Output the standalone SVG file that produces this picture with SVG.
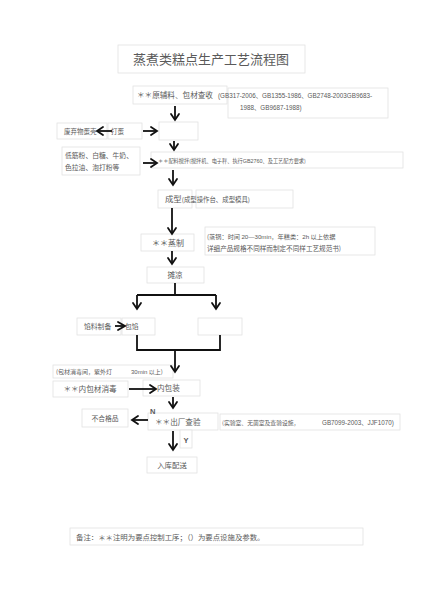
<svg xmlns="http://www.w3.org/2000/svg" width="423" height="600" viewBox="0 0 423 600">
<style>
.bx{fill:#fff;stroke:#e2e2e2;stroke-width:0.8}
.t{font-family:"Noto Sans CJK SC","Liberation Sans",sans-serif;fill:#5a5a5a}
.l{font-family:"Liberation Sans","Noto Sans CJK SC",sans-serif;fill:#5a5a5a}
.c{stroke:#111;stroke-width:1.8;fill:none}
.h{stroke:#111;stroke-width:1.8;fill:none;stroke-linecap:round;stroke-linejoin:miter}
</style>
<rect width="423" height="600" fill="#fff"/>
<g id="title"><rect class="bx" x="118" y="45" width="187" height="28"/><text class="t" x="211" y="64" font-size="13" text-anchor="middle">蒸煮类糕点生产工艺流程图</text></g>
<g id="n_receive"><rect class="bx" x="133" y="86" width="94" height="18"/><text class="t" x="137" y="98" font-size="7.6">＊＊原辅料、包材查收</text></g>
<g id="n_receive_note"><rect class="bx" x="228" y="88" width="160" height="30"/><text class="l" x="218" y="98" font-size="6.3">(GB317-2006、GB1355-1986、GB2748-2003GB9683-</text><text class="l" x="240" y="110" font-size="6.3">1988、GB9687-1988)</text></g>
<g id="n_empty1"><rect class="bx" x="159" y="122" width="39" height="18"/></g>
<g id="n_waste"><rect class="bx" x="57" y="123" width="50" height="16"/><text class="t" x="64" y="134" font-size="6.5">废弃物蛋壳</text></g>
<g id="n_egg"><rect class="bx" x="108" y="123" width="34" height="16"/><text class="t" x="111" y="134" font-size="6.5">打蛋</text></g>
<g id="n_ingredients"><rect class="bx" x="62" y="147" width="78" height="28"/><text class="t" x="65" y="158" font-size="6.8">低筋粉、白糖、牛奶、</text><text class="t" x="65" y="170" font-size="6.8">色拉油、泡打粉等</text></g>
<g id="n_mix"><rect class="bx" x="151" y="152" width="252" height="16"/><text class="t" x="158" y="162.5" font-size="5.2">＊＊配料搅拌(搅拌机、电子秤、执行<tspan class="l" font-size="5.4">GB2760</tspan>、及工艺配方要求)</text></g>
<g id="n_shape"><rect class="bx" x="158" y="190" width="34" height="18"/><rect class="bx" x="196" y="190" width="97" height="18"/><text class="t" x="165" y="202" font-size="8.4">成型<tspan font-size="6.4">(成型操作台、成型模具)</tspan></text></g>
<g id="n_steam"><rect class="bx" x="141" y="234" width="53" height="17"/><text class="t" x="168" y="246" font-size="8" text-anchor="middle">＊＊蒸制</text></g>
<g id="n_steam_note"><rect class="bx" x="205" y="227" width="170" height="28"/><text class="t" x="207" y="239" font-size="6.2">(蒸锅：时间 <tspan class="l">20—30min</tspan>，年糕类：<tspan class="l">2h</tspan> 以上依据</text><text class="t" x="207" y="251" font-size="6.6">详细产品规格不同样而制定不同样工艺规范书)</text></g>
<g id="n_cool"><rect class="bx" x="147" y="267" width="57" height="16"/><text class="t" x="175" y="278" font-size="7.6" text-anchor="middle">摊凉</text></g>
<g id="n_filling"><rect class="bx" x="77" y="318" width="44" height="17"/><text class="t" x="84" y="329" font-size="6.8">馅料制备</text></g>
<g id="n_wrap"><rect class="bx" x="122" y="318" width="33" height="17"/><text class="t" x="125" y="329" font-size="6.8">包馅</text></g>
<g id="n_empty2"><rect class="bx" x="198" y="318" width="44" height="17"/></g>
<g id="n_disinfect_note"><rect class="bx" x="53" y="365" width="120" height="13"/><text class="t" x="56" y="374" font-size="6">(包材消毒间，紫外灯</text><text class="t" x="131" y="374" font-size="6"><tspan class="l">30min</tspan> 以上)</text></g>
<g id="n_disinfect"><rect class="bx" x="53" y="381" width="75" height="16"/><text class="t" x="90" y="392" font-size="7.6" text-anchor="middle">＊＊内包材消毒</text></g>
<g id="n_pack"><rect class="bx" x="143" y="380" width="57" height="16"/><text class="t" x="157" y="391" font-size="7.6">内包装</text></g>
<g id="n_reject"><rect class="bx" x="82" y="409" width="46" height="18"/><text class="t" x="105" y="421" font-size="6.8" text-anchor="middle">不合格品</text></g>
<g id="n_inspect"><rect class="bx" x="148" y="413" width="70" height="17"/><text class="t" x="155" y="425" font-size="7.6">＊＊出厂查验</text></g>
<g id="n_inspect_note"><rect class="bx" x="220" y="414" width="180" height="16"/><text class="t" x="222" y="425" font-size="5.8">(实验室、无菌室及查验设施，</text><text class="l" x="322" y="425" font-size="6.3">GB7099-2003、JJF1070)</text></g>
<g id="n_y"><rect class="bx" x="180" y="430" width="12" height="18"/><text class="l" x="186" y="443" font-size="7.5" font-weight="bold" text-anchor="middle" fill="#333">Y</text></g>
<g id="n_store"><rect class="bx" x="147" y="457" width="50" height="16"/><text class="t" x="172" y="468" font-size="7.4" text-anchor="middle">入库配送</text></g>
<g id="n_remark"><rect class="bx" x="70" y="528" width="293" height="17"/><text class="t" x="76" y="540" font-size="7.4">备注：＊＊注明为要点控制工序；（）为要点设施及参数。</text></g>
<text class="l" x="150" y="414" font-size="7.5" font-weight="bold" fill="#333">N</text>
<g id="connectors">
<path class="c" d="M175 106V119"/><path class="h" d="M171 114L175 120L179 114"/>
<path class="c" d="M143 131H156"/><path class="h" d="M151 127L157 131L151 135"/>
<path class="c" d="M112 131H98"/><path class="h" d="M103 127L97 131L103 135"/>
<path class="c" d="M174 141V149"/><path class="h" d="M170 144L174 150L178 144"/>
<path class="c" d="M143 163H156"/><path class="h" d="M151 159L157 163L151 167"/>
<path class="c" d="M173 170V184"/><path class="h" d="M169 179L173 185L177 179"/>
<path class="c" d="M172 208V233"/><path class="h" d="M168 228L172 234L176 228"/>
<path class="c" d="M172 251V263"/><path class="h" d="M168 258L172 264L176 258"/>
<path class="c" d="M175 283V295M137 295H216M137 295V308M216 295V308"/>
<path class="h" d="M133 303L137 309L141 303M212 303L216 309L220 303"/>
<path class="c" d="M115 326H124"/><path class="h" d="M118 322L125 326L118 330"/>
<path class="c" d="M137 335V350H220V335M175 350V371"/><path class="h" d="M171 366L175 372L179 366"/>
<path class="c" d="M129 389H155"/><path class="h" d="M150 385L156 389L150 393"/>
<path class="c" d="M173 397V407"/><path class="h" d="M169 402L173 408L177 402"/>
<path class="c" d="M148 420H133"/><path class="h" d="M138 416L132 420L138 424"/>
<path class="c" d="M173 431V449"/><path class="h" d="M169 444L173 450L177 444"/>
</g>
</svg>
